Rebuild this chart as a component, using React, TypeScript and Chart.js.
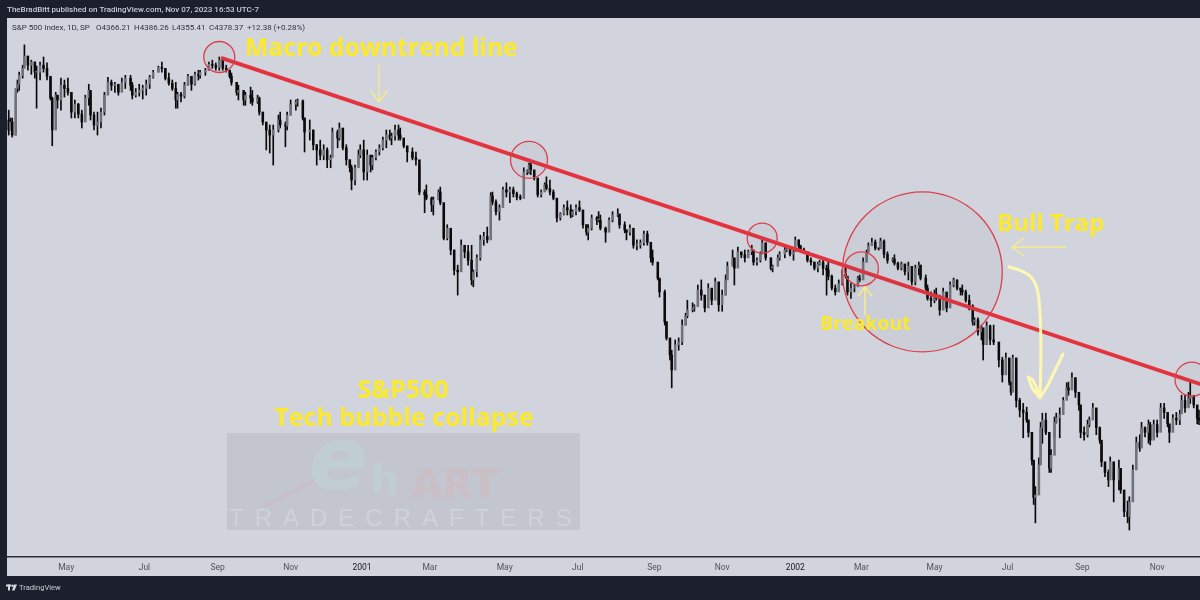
// App.tsx
import { useEffect, useRef } from 'react';
import { Chart, registerables } from 'chart.js';

Chart.register(...registerables);

// trading session number of each candle, counted from the left edge of the chart
const sessions = [
	1, 2, 3, 5, 6, 7, 9, 10, 12, 14,
	16, 17, 19, 21, 23, 25, 26, 28, 29, 31,
	33, 35, 37, 39, 41, 43, 45, 47, 48, 50,
	52, 54, 56, 58, 60, 62, 64, 66, 68, 71,
	72, 74, 76, 78, 80, 82, 84, 87, 89, 91,
	93, 95, 97, 98, 100, 102, 104, 106, 108, 110,
	111, 114, 116, 118, 120, 122, 124, 126, 128, 129,
	132, 133, 136, 137, 140, 141, 144, 145, 147, 149,
	151, 153, 156, 157, 160, 161, 163, 166, 167, 170,
	171, 174, 176, 178, 180, 182, 184, 186, 187, 190,
	191, 193, 195, 197, 198, 200, 202, 203, 205, 207,
	209, 210, 212, 214, 216, 218, 220, 221, 223, 225,
	226, 228, 230, 233, 235, 237, 240, 241, 244, 245,
	248, 249, 251, 253, 255, 257, 259, 261, 263, 265,
	267, 268, 270, 272, 274, 276, 278, 279, 281, 283,
	285, 287, 289, 291, 293, 295, 297, 299, 300, 301,
	303, 305, 307, 309, 310, 312, 314, 316, 318, 320,
	322, 324, 325, 327, 329, 331, 333, 334, 336, 339,
	340, 341, 344, 346, 348, 351, 352, 355, 356, 358,
	360, 362, 364, 366, 368, 370, 371, 374, 375, 378,
	379, 381, 382, 384, 386, 388, 390, 391, 394, 395,
	397, 399, 401, 403, 405, 407, 409, 411, 413, 414,
	417, 418, 420, 422, 424, 426, 428, 429, 431, 433,
	434, 436, 439, 440, 443, 444, 447, 448, 450, 452,
	453, 455, 456, 458, 460, 462, 464, 466, 467, 469,
	471, 472, 474, 476, 478, 480, 482, 483, 485, 487,
	489, 490, 492, 494, 495, 497, 499, 501, 502, 504,
	506, 509, 510, 512, 514, 516, 518, 520, 522, 524,
	525, 528, 529, 531, 533, 534, 536, 538, 540, 542,
	544, 546, 548, 549, 551, 553, 555, 556, 558, 560,
	561, 563, 565, 567, 570, 572, 574, 576, 577, 578,
	580, 582, 584, 586, 587, 589, 590, 591, 593, 594,
	595, 597, 599, 600, 602, 603, 605, 607, 609, 610,
	612, 614, 616, 617, 619, 621, 622, 624, 626, 628,
	629, 631, 633, 634, 636, 639, 640, 642, 644, 645,
	647, 649, 651, 652, 654, 656, 657, 659, 661, 663,
	665, 667, 668, 670, 672, 674, 675, 677, 679, 680,
	682, 684, 685,
];

const highs = [
	1417, 1401, 1401, 1444, 1480, 1497, 1512, 1557, 1532, 1523,
	1519, 1510, 1519, 1530, 1517, 1484, 1444, 1454, 1448, 1484,
	1480, 1484, 1452, 1438, 1431, 1417, 1448, 1471, 1454, 1413,
	1413, 1421, 1454, 1486, 1480, 1475, 1469, 1484, 1490, 1490,
	1475, 1462, 1471, 1469, 1480, 1490, 1501, 1510, 1519, 1505,
	1495, 1480, 1475, 1454, 1454, 1475, 1492, 1488, 1497, 1501,
	1501, 1505, 1519, 1523, 1517, 1530, 1523, 1512, 1501, 1495,
	1475, 1469, 1454, 1454, 1465, 1458, 1448, 1444, 1413, 1387,
	1387, 1387, 1407, 1413, 1393, 1413, 1438, 1438, 1440, 1438,
	1401, 1397, 1377, 1348, 1357, 1348, 1342, 1328, 1381, 1377,
	1391, 1367, 1348, 1319, 1309, 1309, 1338, 1348, 1357, 1338,
	1319, 1328, 1338, 1348, 1363, 1377, 1377, 1371, 1387, 1387,
	1381, 1361, 1338, 1342, 1334, 1309, 1263, 1272, 1250, 1250,
	1263, 1268, 1236, 1201, 1183, 1158, 1133, 1175, 1158, 1166,
	1166, 1125, 1150, 1183, 1188, 1197, 1258, 1259, 1245, 1236,
	1268, 1276, 1268, 1268, 1259, 1254, 1304, 1300, 1313, 1313,
	1291, 1281, 1263, 1276, 1287, 1281, 1263, 1245, 1222, 1236,
	1243, 1236, 1227, 1236, 1243, 1218, 1201, 1201, 1218, 1215,
	1224, 1218, 1197, 1213, 1224, 1229, 1215, 1206, 1192, 1201,
	1183, 1175, 1175, 1190, 1190, 1166, 1158, 1133, 1109, 1093,
	1044, 1017, 1002, 1017, 1020, 1047, 1057, 1077, 1073, 1070,
	1101, 1109, 1085, 1103, 1093, 1112, 1082, 1093, 1117, 1138,
	1158, 1141, 1163, 1153, 1158, 1158, 1166, 1150, 1145, 1155,
	1175, 1170, 1145, 1133, 1150, 1155, 1163, 1166, 1161, 1158,
	1180, 1175, 1166, 1161, 1155, 1145, 1138, 1138, 1141, 1145,
	1133, 1138, 1117, 1101, 1109, 1125, 1133, 1109, 1104, 1101,
	1115, 1117, 1145, 1158, 1170, 1178, 1175, 1161, 1178, 1175,
	1155, 1145, 1150, 1138, 1138, 1133, 1138, 1117, 1133, 1138,
	1133, 1117, 1101, 1090, 1093, 1096, 1085, 1096, 1085, 1106,
	1112, 1109, 1096, 1101, 1093, 1085, 1070, 1050, 1050, 1039,
	1021, 1044, 1039, 1039, 1010, 992, 998, 974, 957, 995,
	978, 935, 928, 923, 906, 883, 847, 823, 858, 903,
	915, 915, 868, 868, 910, 915, 922, 936, 956, 957,
	970, 963, 935, 922, 897, 906, 910, 928, 908, 897,
	874, 851, 843, 859, 840, 855, 843, 813, 806, 811,
	849, 884, 887, 903, 897, 906, 903, 906, 906, 928,
	928, 913, 897, 913, 916, 919, 939, 939, 943, 957,
	939, 924, 919,
];

const lows = [
	1367, 1377, 1363, 1367, 1454, 1458, 1484, 1510, 1501, 1492,
	1484, 1421, 1480, 1497, 1480, 1438, 1346, 1401, 1421, 1417,
	1444, 1448, 1401, 1401, 1401, 1381, 1407, 1427, 1397, 1377,
	1367, 1381, 1407, 1454, 1458, 1454, 1448, 1458, 1462, 1458,
	1440, 1444, 1446, 1440, 1448, 1462, 1484, 1497, 1497, 1480,
	1469, 1458, 1421, 1421, 1434, 1442, 1469, 1458, 1469, 1480,
	1484, 1490, 1501, 1505, 1501, 1501, 1501, 1497, 1484, 1469,
	1448, 1438, 1427, 1427, 1431, 1427, 1431, 1407, 1387, 1338,
	1332, 1309, 1373, 1381, 1344, 1377, 1407, 1417, 1425, 1397,
	1334, 1357, 1338, 1309, 1319, 1319, 1304, 1304, 1338, 1342,
	1357, 1338, 1309, 1296, 1263, 1272, 1309, 1323, 1281, 1281,
	1296, 1300, 1319, 1328, 1338, 1342, 1357, 1348, 1357, 1357,
	1357, 1342, 1315, 1319, 1309, 1254, 1222, 1245, 1224, 1218,
	1245, 1236, 1175, 1175, 1150, 1117, 1085, 1138, 1145, 1133,
	1101, 1098, 1114, 1141, 1166, 1170, 1201, 1236, 1218, 1209,
	1245, 1250, 1240, 1250, 1245, 1245, 1248, 1291, 1294, 1291,
	1281, 1250, 1250, 1263, 1263, 1254, 1245, 1206, 1209, 1218,
	1218, 1213, 1215, 1218, 1224, 1195, 1183, 1175, 1192, 1201,
	1206, 1192, 1171, 1192, 1206, 1215, 1195, 1187, 1175, 1183,
	1161, 1158, 1161, 1166, 1166, 1138, 1133, 1109, 1082, 1039,
	1017, 988, 949, 974, 1002, 1010, 1039, 1050, 1059, 1060,
	1070, 1077, 1059, 1070, 1070, 1080, 1060, 1060, 1085, 1112,
	1133, 1101, 1141, 1145, 1138, 1150, 1150, 1133, 1133, 1138,
	1155, 1141, 1125, 1122, 1133, 1141, 1145, 1155, 1148, 1141,
	1161, 1158, 1155, 1153, 1138, 1133, 1125, 1122, 1133, 1117,
	1085, 1109, 1093, 1085, 1093, 1101, 1112, 1085, 1080, 1090,
	1106, 1106, 1112, 1138, 1155, 1166, 1158, 1158, 1161, 1145,
	1136, 1138, 1133, 1125, 1125, 1117, 1109, 1101, 1101, 1117,
	1109, 1093, 1077, 1067, 1073, 1077, 1054, 1062, 1059, 1085,
	1098, 1093, 1085, 1085, 1074, 1062, 1039, 1039, 1024, 1017,
	988, 1020, 1010, 1010, 978, 957, 974, 953, 939, 957,
	923, 910, 883, 903, 884, 849, 802, 781, 819, 858,
	876, 887, 840, 840, 883, 902, 883, 922, 935, 939,
	949, 936, 919, 883, 880, 884, 897, 908, 887, 876,
	847, 835, 823, 835, 805, 819, 815, 788, 781, 773,
	810, 865, 866, 877, 884, 876, 874, 884, 884, 910,
	908, 897, 877, 897, 900, 900, 919, 916, 926, 928,
	922, 901, 900,
];

const closes = [
	1377, 1393, 1367, 1462, 1471, 1490, 1505, 1532, 1512, 1519,
	1497, 1497, 1512, 1505, 1488, 1442, 1377, 1448, 1438, 1469,
	1462, 1454, 1413, 1429, 1409, 1393, 1442, 1458, 1407, 1387,
	1393, 1413, 1448, 1475, 1469, 1471, 1454, 1475, 1484, 1469,
	1448, 1454, 1458, 1462, 1471, 1486, 1497, 1507, 1505, 1484,
	1473, 1462, 1438, 1450, 1446, 1469, 1488, 1471, 1492, 1490,
	1497, 1501, 1514, 1512, 1507, 1523, 1505, 1501, 1488, 1475,
	1454, 1458, 1438, 1448, 1442, 1434, 1442, 1413, 1393, 1377,
	1367, 1377, 1397, 1387, 1385, 1407, 1429, 1434, 1436, 1401,
	1373, 1377, 1348, 1338, 1328, 1338, 1319, 1323, 1373, 1361,
	1381, 1342, 1319, 1304, 1281, 1304, 1328, 1338, 1296, 1328,
	1309, 1323, 1334, 1342, 1357, 1367, 1361, 1365, 1377, 1367,
	1361, 1346, 1334, 1323, 1319, 1259, 1254, 1248, 1236, 1245,
	1259, 1240, 1178, 1195, 1158, 1125, 1122, 1166, 1155, 1141,
	1109, 1122, 1145, 1175, 1181, 1175, 1252, 1241, 1224, 1231,
	1263, 1259, 1263, 1256, 1250, 1248, 1296, 1296, 1309, 1300,
	1285, 1254, 1259, 1272, 1266, 1259, 1248, 1213, 1220, 1231,
	1227, 1218, 1224, 1231, 1227, 1201, 1188, 1195, 1213, 1209,
	1209, 1195, 1188, 1209, 1218, 1220, 1201, 1192, 1188, 1195,
	1166, 1166, 1170, 1185, 1171, 1145, 1138, 1112, 1090, 1044,
	1020, 995, 974, 1010, 1014, 1039, 1053, 1062, 1065, 1067,
	1093, 1085, 1065, 1096, 1077, 1106, 1070, 1085, 1109, 1131,
	1145, 1128, 1155, 1150, 1145, 1155, 1158, 1138, 1141, 1151,
	1170, 1145, 1128, 1131, 1145, 1151, 1158, 1160, 1151, 1155,
	1175, 1165, 1158, 1155, 1141, 1138, 1128, 1135, 1138, 1128,
	1125, 1115, 1096, 1090, 1103, 1118, 1115, 1090, 1096, 1098,
	1112, 1109, 1138, 1153, 1165, 1171, 1161, 1160, 1173, 1151,
	1141, 1143, 1136, 1128, 1135, 1122, 1131, 1106, 1128, 1133,
	1112, 1096, 1080, 1077, 1087, 1080, 1062, 1090, 1065, 1101,
	1109, 1096, 1093, 1090, 1077, 1068, 1044, 1047, 1029, 1035,
	1010, 1038, 1017, 1014, 988, 967, 991, 957, 943, 991,
	932, 919, 916, 906, 890, 855, 810, 813, 849, 896,
	906, 890, 845, 861, 903, 909, 913, 932, 949, 946,
	963, 943, 926, 890, 887, 900, 906, 922, 896, 880,
	853, 840, 831, 853, 831, 845, 819, 794, 788, 805,
	843, 877, 870, 896, 890, 900, 880, 900, 890, 922,
	916, 901, 890, 908, 906, 914, 932, 922, 935, 938,
	926, 908, 906,
];

const tickSessions = [34, 79, 121, 163, 204, 243, 286, 328, 372, 411, 453, 491, 533, 575, 618, 661];
const tickLabels = ['May', 'Jul', 'Sep', 'Nov', '2001', 'Mar', 'May', 'Jul', 'Sep', 'Nov', '2002', 'Mar', 'May', 'Jul', 'Sep', 'Nov'];

const trendSessions = [123, 686];
const trendPrices = [1528, 954];

const circleSessions = [122, 300, 434, 526, 491, 681];
const circlePrices = [1530, 1319, 1178, 1122, 1127, 961];
const circleRadii = [15.5, 18.5, 15, 80, 17, 17];

const YELLOW = '#fbe92f';
const PALE = '#f7ec8a';

const line = (ctx: CanvasRenderingContext2D, pts: number[][], color: string, width: number) => {
	ctx.strokeStyle = color;
	ctx.lineWidth = width;
	ctx.lineCap = 'round';
	ctx.lineJoin = 'round';
	ctx.beginPath();
	pts.forEach(([x, y], i) => (i ? ctx.lineTo(x, y) : ctx.moveTo(x, y)));
	ctx.stroke();
};

const label = (ctx: CanvasRenderingContext2D, text: string, x: number, y: number, font: string, color: string, align: CanvasTextAlign = 'left') => {
	ctx.font = font;
	ctx.fillStyle = color;
	ctx.textAlign = align;
	ctx.textBaseline = 'middle';
	ctx.fillText(text, x, y);
};

// dark frame, light plot and the price legend
const framePlugin = {
	id: 'frame',
	beforeDraw(chart: Chart) {
		const { ctx } = chart;
		ctx.save();
		ctx.fillStyle = '#1c202c';
		ctx.fillRect(0, 0, 1200, 600);
		ctx.fillStyle = '#d1d4dc';
		ctx.fillRect(7, 18, 1193, 558);
		ctx.fillStyle = '#2a2e39';
		ctx.fillRect(7, 556, 1193, 1.5);

		label(ctx, 'TheBradBitt published on TradingView.com, Nov 07, 2023 16:53 UTC-7', 7, 10, '500 8px Roboto', '#c9ccd4');
		const legendFont = '8px Roboto';
		const legendColor = '#2f3340';
		label(ctx, 'S&P 500 Index, 1D, SP', 12, 28, legendFont, legendColor);
		label(ctx, 'O4366.21', 96, 28, legendFont, legendColor);
		label(ctx, 'H4386.26', 134, 28, legendFont, legendColor);
		label(ctx, 'L4355.41', 172, 28, legendFont, legendColor);
		label(ctx, 'C4378.37', 209, 28, legendFont, legendColor);
		label(ctx, '+12.38 (+0.28%)', 247, 28, legendFont, legendColor);

		// footer logo
		ctx.fillStyle = '#d5d8df';
		ctx.fillRect(6, 584.5, 5, 2);
		ctx.fillRect(8, 584.5, 2, 6);
		ctx.beginPath();
		ctx.arc(12.5, 585.8, 1.2, 0, Math.PI * 2);
		ctx.fill();
		ctx.beginPath();
		ctx.moveTo(14, 584.5);
		ctx.lineTo(17, 584.5);
		ctx.lineTo(14.5, 590.5);
		ctx.lineTo(12, 590.5);
		ctx.fill();
		label(ctx, 'TradingView', 19, 588, '7.6px Roboto', '#c9ccd4');

		// watermark
		ctx.fillStyle = '#c3c6cf';
		ctx.fillRect(227, 433, 353, 97);
		line(ctx, [[264, 507], [318, 478]], '#cbbcc6', 3);
		label(ctx, 'e', 338, 466, 'italic bold 88px "DejaVu Sans"', '#c0ced4', 'center');
		label(ctx, 'h', 385, 484, 'bold 40px "DejaVu Sans"', '#c0ced4', 'center');
		label(ctx, 'ART', 455, 488, 'bold 40px "DejaVu Sans"', '#cbbfc6', 'center');
		ctx.letterSpacing = '11px';
		label(ctx, 'TRADECRAFTERS', 229, 519, '24px "Liberation Sans"', '#cfd2d9');
		ctx.letterSpacing = '0px';
		ctx.restore();
	},
};

// drawn notes on top of the candles
const notesPlugin = {
	id: 'notes',
	afterDatasetsDraw(chart: Chart) {
		const { ctx } = chart;
		ctx.save();

		line(ctx, [[379, 65], [379, 101]], PALE, 1.3);
		line(ctx, [[371, 91], [379, 102], [387, 91]], PALE, 1.3);
		line(ctx, [[1066, 247], [1012, 247]], PALE, 1.3);
		line(ctx, [[1024, 238], [1012, 247], [1024, 256]], PALE, 1.3);
		line(ctx, [[865, 315], [865, 288]], PALE, 1.5);
		line(ctx, [[858, 296], [865, 287], [872, 296]], PALE, 1.5);

		ctx.strokeStyle = '#fdf7b4';
		ctx.lineWidth = 3;
		ctx.lineCap = 'round';
		ctx.lineJoin = 'round';
		ctx.beginPath();
		ctx.moveTo(1009, 267);
		ctx.bezierCurveTo(1030, 272, 1037, 278, 1039, 300);
		ctx.bezierCurveTo(1042, 330, 1041, 365, 1040, 396);
		ctx.stroke();
		line(ctx, [[1063, 354], [1048, 385], [1040, 398], [1032, 388], [1028, 377], [1033, 380], [1040, 396]], '#fdf7b4', 3);

		label(ctx, 'Macro downtrend line', 245, 49, 'bold 24.7px "Open Sans"', YELLOW);
		label(ctx, 'Bull Trap', 997, 224, 'bold 24px "Open Sans"', YELLOW);
		label(ctx, 'Breakout', 820, 324, 'bold 19.5px "Open Sans"', YELLOW);
		label(ctx, 'S&P500', 403, 391, 'bold 25px "Open Sans"', YELLOW, 'center');
		label(ctx, 'Tech bubble collapse', 404, 419, 'bold 25px "Open Sans"', YELLOW, 'center');
		ctx.restore();
	},
};

const App = () => {
	const chartRef = useRef<HTMLCanvasElement>(null);

	useEffect(() => {
		document.body.style.margin = '0';
		if (!chartRef.current) return;

		const opens = closes.map((c, i) => (i ? closes[i - 1] : 1397));

		const chart = new Chart(chartRef.current, {
			type: 'bar',
			data: {
				datasets: [
					{
						type: 'line',
						data: trendSessions.map((x, i) => ({ x, y: trendPrices[i] })),
						borderColor: '#e5323f',
						borderWidth: 4,
						pointRadius: 0,
						order: 1,
					},
					{
						type: 'scatter',
						data: circleSessions.map((x, i) => ({ x, y: circlePrices[i] })),
						pointRadius: circleRadii,
						backgroundColor: 'rgba(90,100,125,0.05)',
						borderColor: '#dc3f4c',
						borderWidth: 1.3,
						order: 0,
					},
					{
						type: 'bar',
						data: sessions.map((x, i) => ({ x, y: [opens[i], closes[i]] })),
						backgroundColor: closes.map((c, i) => (c >= opens[i] ? '#6f727a' : '#0a0a0a')),
						barThickness: 1.9,
						minBarLength: 1,
						grouped: false,
						order: 3,
					},
					{
						type: 'bar',
						data: sessions.map((x, i) => ({ x, y: [lows[i], highs[i]] })),
						backgroundColor: '#0a0a0a',
						barThickness: 1,
						grouped: false,
						order: 4,
					},
				],
			} as any,
			options: {
				responsive: false,
				animation: false,
				events: [],
				// the big circles would otherwise shrink the plot
				layout: { autoPadding: false, padding: { left: 7, top: 18, bottom: 24, right: 0 } },
				plugins: { legend: { display: false }, tooltip: { enabled: false } },
				scales: {
					x: {
						type: 'linear',
						offset: false,
						min: 0,
						max: 685.6,
						grid: { display: false },
						border: { display: false },
						afterBuildTicks: (scale: any) => {
							scale.ticks = tickSessions.map((value) => ({ value }));
						},
						afterFit: (scale: any) => {
							scale.height = 21;
						},
						ticks: {
							autoSkip: false,
							maxRotation: 0,
							padding: 0,
							font: { family: 'Roboto', size: 8.5 },
							color: (ctx: any) => (tickLabels[ctx.index]?.startsWith('20') ? '#131722' : '#50535e'),
							callback: (_v: any, i: number) => tickLabels[i],
						},
					},
					y: {
						type: 'logarithmic',
						display: false,
						bounds: 'data',
						min: 745.6,
						max: 1618.6,
					},
				},
			} as any,
			plugins: [framePlugin, notesPlugin],
		});

		return () => chart.destroy();
	}, []);

	return (
		<div style={{ width: 1200, height: 600 }}>
			<canvas ref={chartRef} width={1200} height={600} style={{ display: 'block' }} />
		</div>
	);
};

export default App;
